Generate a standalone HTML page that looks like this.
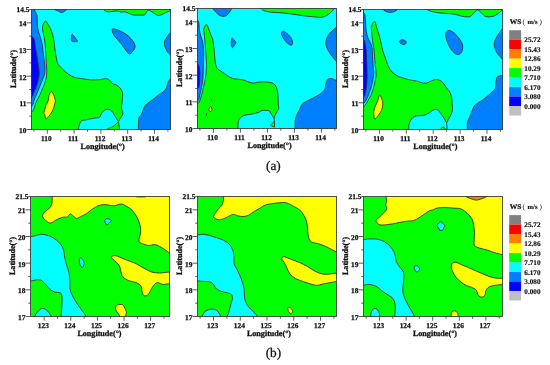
<!DOCTYPE html>
<html><head><meta charset="utf-8"><style>
html,body{margin:0;padding:0;background:#fff;overflow:hidden;}
svg{display:block;}
text{font-family:"Liberation Serif","Noto Serif CJK SC",serif;fill:#111;text-rendering:geometricPrecision;}
.t{font-size:7.4px;font-weight:bold;stroke:#111;stroke-width:0.25px;}
.a{font-size:8.1px;font-weight:bold;stroke:#111;stroke-width:0.3px;}
.c{font-size:7.2px;font-weight:bold;stroke:#111;stroke-width:0.15px;}
.ws{font-size:7.1px;font-weight:bold;stroke:#111;stroke-width:0.25px;}
.ms{font-size:6.6px;font-weight:bold;stroke:#111;stroke-width:0.15px;}
.cjt{font-size:7.4px;font-weight:bold;font-family:"Liberation Serif","Noto Serif CJK SC","Noto Sans CJK SC",serif;}
.lab{font-size:13.3px;stroke:#111;stroke-width:0.25px;}
</style></head><body>
<svg width="550" height="365" viewBox="0 0 550 365">
<rect width="550" height="365" fill="#fff"/>
<clipPath id="cP1"><rect x="31.5" y="9.5" width="139.00" height="120.00"/></clipPath>
<g clip-path="url(#cP1)" stroke="#333" stroke-width="0.9" stroke-linejoin="round">
<rect x="31.5" y="9.5" width="139.00" height="120.00" fill="#00FFFF" stroke="none"/>
<path d="M45.20,21.20 C45.87,20.62 45.85,21.02 46.70,22.20 C47.55,23.38 49.28,26.10 50.30,28.30 C51.32,30.50 52.18,33.12 52.80,35.40 C53.42,37.68 53.57,39.12 54.00,42.00 C54.43,44.88 54.85,49.32 55.40,52.70 C55.95,56.08 56.58,60.07 57.30,62.30 C58.02,64.53 58.42,64.58 59.70,66.10 C60.98,67.62 63.45,70.00 65.00,71.40 C66.55,72.80 67.37,73.48 69.00,74.50 C70.63,75.52 72.68,76.82 74.80,77.50 C76.92,78.18 79.12,78.22 81.70,78.60 C84.28,78.98 87.25,79.63 90.30,79.80 C93.35,79.97 97.52,79.78 100.00,79.60 C102.48,79.42 103.77,78.73 105.20,78.70 C106.63,78.67 107.45,78.63 108.60,79.40 C109.75,80.17 110.52,82.18 112.10,83.30 C113.68,84.42 116.38,84.62 118.10,86.10 C119.82,87.58 121.73,89.47 122.40,92.20 C123.07,94.93 122.27,99.87 122.10,102.50 C121.93,105.13 121.38,106.67 121.40,108.00 C121.42,109.33 121.95,109.55 122.20,110.50 C122.45,111.45 123.00,112.75 122.90,113.70 C122.80,114.65 122.13,115.27 121.60,116.20 C121.07,117.13 120.23,118.40 119.70,119.30 C119.17,120.20 118.92,121.70 118.40,121.60 C117.88,121.50 117.22,119.72 116.60,118.70 C115.98,117.68 115.33,116.55 114.70,115.50 C114.07,114.45 113.53,113.33 112.80,112.40 C112.07,111.47 111.25,110.42 110.30,109.90 C109.35,109.38 108.15,109.20 107.10,109.30 C106.05,109.40 105.00,109.72 104.00,110.50 C103.00,111.28 101.87,112.83 101.10,114.00 C100.33,115.17 100.42,116.83 99.40,117.50 C98.38,118.17 97.08,117.63 95.00,118.00 C92.92,118.37 89.25,119.13 86.90,119.70 C84.55,120.27 82.33,119.82 80.90,121.40 C79.47,122.98 78.73,127.27 78.30,129.20 C77.87,131.13 86.85,132.37 78.30,133.00 C69.75,133.63 35.55,136.33 27.00,133.00 C18.45,129.67 26.05,116.63 27.00,113.00 C27.95,109.37 31.20,112.97 32.70,111.20 C34.20,109.43 34.80,105.15 36.00,102.40 C37.20,99.65 38.70,97.25 39.90,94.70 C41.10,92.15 42.20,89.65 43.20,87.10 C44.20,84.55 45.30,81.92 45.90,79.40 C46.50,76.88 46.70,74.23 46.80,72.00 C46.90,69.77 46.67,68.90 46.50,66.00 C46.33,63.10 46.02,58.10 45.80,54.60 C45.58,51.10 45.47,47.87 45.20,45.00 C44.93,42.13 44.62,39.85 44.20,37.40 C43.78,34.95 42.95,32.25 42.70,30.30 C42.45,28.35 42.28,27.22 42.70,25.70 C43.12,24.18 44.53,21.78 45.20,21.20 Z" fill="#00FF00"/>
<path d="M118.40,122.20 C118.77,123.75 120.62,131.20 118.80,133.00 C116.98,134.80 109.38,133.60 107.50,133.00 C105.62,132.40 107.45,130.17 107.50,129.40 C107.55,128.63 107.23,128.72 107.80,128.40 C108.37,128.08 109.85,127.97 110.90,127.50 C111.95,127.03 113.15,126.23 114.10,125.60 C115.05,124.97 115.88,124.27 116.60,123.70 C117.32,123.13 118.03,120.65 118.40,122.20 Z" fill="#00FF00"/>
<path d="M27.00,5.00 C28.03,-11.92 32.02,4.25 33.20,5.00 C34.38,5.75 33.62,8.15 34.10,9.50 C34.58,10.85 35.60,12.00 36.10,13.10 C36.60,14.20 36.90,14.42 37.10,16.10 C37.30,17.78 37.13,20.83 37.30,23.20 C37.47,25.57 37.63,28.10 38.10,30.30 C38.57,32.50 39.58,34.70 40.10,36.40 C40.62,38.10 40.83,39.07 41.20,40.50 C41.57,41.93 41.93,42.65 42.30,45.00 C42.67,47.35 43.05,51.77 43.40,54.60 C43.75,57.43 44.13,59.60 44.40,62.00 C44.67,64.40 45.02,66.83 45.00,69.00 C44.98,71.17 44.92,72.73 44.30,75.00 C43.68,77.27 42.30,80.08 41.30,82.60 C40.30,85.12 39.43,87.33 38.30,90.10 C37.17,92.87 35.50,96.68 34.50,99.20 C33.50,101.72 33.55,103.98 32.30,105.20 C31.05,106.42 27.88,123.20 27.00,106.50 C26.12,89.80 25.97,21.92 27.00,5.00 Z" fill="#0080FF"/>
<path d="M27.00,36.50 C27.80,26.47 30.67,36.45 31.80,36.80 C32.93,37.15 33.30,37.82 33.80,38.60 C34.30,39.38 34.57,40.27 34.80,41.50 C35.03,42.73 34.93,44.13 35.20,46.00 C35.47,47.87 35.95,50.03 36.40,52.70 C36.85,55.37 37.43,58.78 37.90,62.00 C38.37,65.22 39.12,69.07 39.20,72.00 C39.28,74.93 38.90,77.08 38.40,79.60 C37.90,82.12 37.02,84.83 36.20,87.10 C35.38,89.37 34.17,91.67 33.50,93.20 C32.83,94.73 33.28,95.67 32.20,96.30 C31.12,96.93 27.87,106.97 27.00,97.00 C26.13,87.03 26.20,46.53 27.00,36.50 Z" fill="#0000FF"/>
<path d="M51.40,91.50 C52.13,91.50 53.07,93.62 53.60,94.70 C54.13,95.78 54.32,97.03 54.60,98.00 C54.88,98.97 55.25,99.62 55.30,100.50 C55.35,101.38 55.23,101.88 54.90,103.30 C54.57,104.72 54.05,107.15 53.30,109.00 C52.55,110.85 51.37,112.95 50.40,114.40 C49.43,115.85 48.25,116.95 47.50,117.70 C46.75,118.45 46.38,119.45 45.90,118.90 C45.42,118.35 44.95,115.43 44.60,114.40 C44.25,113.37 43.73,113.60 43.80,112.70 C43.87,111.80 44.65,110.30 45.00,109.00 C45.35,107.70 45.55,105.85 45.90,104.90 C46.25,103.95 46.70,104.12 47.10,103.30 C47.50,102.48 48.03,101.05 48.30,100.00 C48.57,98.95 48.55,97.88 48.70,97.00 C48.85,96.12 48.75,95.62 49.20,94.70 C49.65,93.78 50.67,91.50 51.40,91.50 Z" fill="#FFFF00"/>
<path d="M54.50,6.00 C52.55,6.58 54.15,8.67 54.80,9.50 C55.45,10.33 57.30,10.48 58.40,11.00 C59.50,11.52 60.30,12.60 61.40,12.60 C62.50,12.60 64.15,11.55 65.00,11.00 C65.85,10.45 66.25,10.13 66.50,9.30 C66.75,8.47 68.50,6.55 66.50,6.00 C64.50,5.45 56.45,5.42 54.50,6.00 Z" fill="#0080FF"/>
<path d="M71.80,34.50 C72.15,34.08 72.72,34.67 73.50,35.50 C74.28,36.33 75.82,38.52 76.50,39.50 C77.18,40.48 77.85,41.05 77.60,41.40 C77.35,41.75 75.97,41.63 75.00,41.60 C74.03,41.57 72.40,41.80 71.80,41.20 C71.20,40.60 71.40,39.12 71.40,38.00 C71.40,36.88 71.45,34.92 71.80,34.50 Z" fill="#0080FF"/>
<path d="M112.30,29.10 C112.93,28.23 115.47,29.15 117.60,29.90 C119.73,30.65 122.83,32.10 125.10,33.60 C127.37,35.10 129.57,37.02 131.20,38.90 C132.83,40.78 134.42,43.15 134.90,44.90 C135.38,46.65 134.98,47.88 134.10,49.40 C133.22,50.92 130.98,53.87 129.60,54.00 C128.22,54.13 127.05,51.72 125.80,50.20 C124.55,48.68 123.47,46.67 122.10,44.90 C120.73,43.13 118.98,41.23 117.60,39.60 C116.22,37.97 114.68,36.85 113.80,35.10 C112.92,33.35 111.67,29.97 112.30,29.10 Z" fill="#0080FF"/>
<path d="M173.00,31.00 C172.58,27.10 171.77,31.20 170.50,32.60 C169.23,34.00 166.40,37.42 165.40,39.40 C164.40,41.38 164.22,42.52 164.50,44.50 C164.78,46.48 166.10,49.60 167.10,51.30 C168.10,53.00 169.52,53.92 170.50,54.70 C171.48,55.48 172.58,59.95 173.00,56.00 C173.42,52.05 173.42,34.90 173.00,31.00 Z" fill="#0080FF"/>
<path d="M103.50,5.00 C91.80,5.73 103.22,8.27 103.80,9.40 C104.38,10.53 105.63,11.45 107.00,11.80 C108.37,12.15 110.23,11.63 112.00,11.50 C113.77,11.37 116.03,10.88 117.60,11.00 C119.17,11.12 120.15,12.05 121.40,12.20 C122.65,12.35 123.22,11.47 125.10,11.90 C126.98,12.33 130.47,14.27 132.70,14.80 C134.93,15.33 136.50,15.10 138.50,15.10 C140.50,15.10 143.17,15.58 144.70,14.80 C146.23,14.02 146.70,11.03 147.70,10.40 C148.70,9.77 149.57,10.48 150.70,11.00 C151.83,11.52 153.23,12.75 154.50,13.50 C155.77,14.25 157.05,15.33 158.30,15.50 C159.55,15.67 160.75,15.00 162.00,14.50 C163.25,14.00 164.42,13.20 165.80,12.50 C167.18,11.80 168.93,11.55 170.30,10.30 C171.67,9.05 185.13,5.88 174.00,5.00 C162.87,4.12 115.20,4.27 103.50,5.00 Z" fill="#00FF00"/>
<path d="M174.00,76.00 C173.62,66.75 172.67,76.53 171.70,77.50 C170.73,78.47 169.07,80.07 168.20,81.80 C167.33,83.53 167.37,86.17 166.50,87.90 C165.63,89.63 164.30,91.05 163.00,92.20 C161.70,93.35 160.28,93.65 158.70,94.80 C157.12,95.95 155.37,97.67 153.50,99.10 C151.63,100.53 149.08,101.97 147.50,103.40 C145.92,104.83 145.00,105.83 144.00,107.70 C143.00,109.57 142.35,112.87 141.50,114.60 C140.65,116.33 139.43,115.65 138.90,118.10 C138.37,120.55 138.40,126.82 138.30,129.30 C138.20,131.78 132.35,132.38 138.30,133.00 C144.25,133.62 168.05,142.50 174.00,133.00 C179.95,123.50 174.38,85.25 174.00,76.00 Z" fill="#0080FF"/>
</g>
<rect x="31.5" y="9.5" width="139.00" height="120.00" fill="none" stroke="#2a2a2a" stroke-opacity="0.85" stroke-width="0.95"/>
<path d="M29.30,9.50H31.5M26.50,22.83H31.5M29.30,36.17H31.5M26.50,49.50H31.5M29.30,62.83H31.5M26.50,76.17H31.5M29.30,89.50H31.5M26.50,102.83H31.5M29.30,116.17H31.5M26.50,129.50H31.5M33.90,129.5V131.70M47.30,129.5V133.70M60.70,129.5V131.70M74.10,129.5V133.70M87.50,129.5V131.70M100.90,129.5V133.70M114.30,129.5V131.70M127.70,129.5V133.70M141.10,129.5V131.70M154.50,129.5V133.70M167.90,129.5V131.70" stroke="#333" stroke-width="0.8" fill="none"/>
<text x="29.50" y="12.30" text-anchor="end" class="t">14.5</text>
<text x="26.50" y="26.33" text-anchor="end" class="t">14</text>
<text x="26.50" y="53.00" text-anchor="end" class="t">13</text>
<text x="26.50" y="79.67" text-anchor="end" class="t">12</text>
<text x="26.50" y="106.33" text-anchor="end" class="t">11</text>
<text x="26.50" y="133.00" text-anchor="end" class="t">10</text>
<text x="46.40" y="141.30" text-anchor="middle" class="t">110</text>
<text x="73.20" y="141.30" text-anchor="middle" class="t">111</text>
<text x="100.00" y="141.30" text-anchor="middle" class="t">112</text>
<text x="126.80" y="141.30" text-anchor="middle" class="t">113</text>
<text x="153.60" y="141.30" text-anchor="middle" class="t">114</text>
<text x="102.70" y="148.50" text-anchor="middle" class="a">Longitude(°)</text>
<text transform="translate(15.80,68.90) rotate(-90)" text-anchor="middle" class="a">Latitude(°)</text>
<clipPath id="cP2"><rect x="197.5" y="8.5" width="139.00" height="120.00"/></clipPath>
<g clip-path="url(#cP2)" stroke="#333" stroke-width="0.9" stroke-linejoin="round">
<rect x="197.5" y="8.5" width="139.00" height="120.00" fill="#00FFFF" stroke="none"/>
<path d="M206.00,24.60 C206.63,24.15 206.88,24.83 207.60,26.30 C208.32,27.77 209.48,31.30 210.30,33.40 C211.12,35.50 211.97,37.13 212.50,38.90 C213.03,40.67 213.23,42.17 213.50,44.00 C213.77,45.83 213.80,46.87 214.10,49.90 C214.40,52.93 214.78,59.12 215.30,62.20 C215.82,65.28 216.07,66.77 217.20,68.40 C218.33,70.03 220.05,70.57 222.10,72.00 C224.15,73.43 227.30,75.83 229.50,77.00 C231.70,78.17 233.08,78.53 235.30,79.00 C237.52,79.47 239.93,79.13 242.80,79.80 C245.67,80.47 249.27,82.67 252.50,83.00 C255.73,83.33 258.95,81.80 262.20,81.80 C265.45,81.80 269.72,82.25 272.00,83.00 C274.28,83.75 274.93,84.62 275.90,86.30 C276.87,87.98 277.42,90.35 277.80,93.10 C278.18,95.85 278.03,100.22 278.20,102.80 C278.37,105.38 278.92,107.30 278.80,108.60 C278.68,109.90 277.93,109.83 277.50,110.60 C277.07,111.37 276.65,112.32 276.20,113.20 C275.75,114.08 275.15,115.05 274.80,115.90 C274.45,116.75 274.42,118.20 274.10,118.30 C273.78,118.40 273.38,117.23 272.90,116.50 C272.42,115.77 271.70,114.67 271.20,113.90 C270.70,113.13 270.33,112.45 269.90,111.90 C269.47,111.35 269.92,110.83 268.60,110.60 C267.28,110.37 263.72,110.18 262.00,110.50 C260.28,110.82 260.20,111.87 258.30,112.50 C256.40,113.13 253.02,113.82 250.60,114.30 C248.18,114.78 245.58,114.72 243.80,115.40 C242.02,116.08 240.82,117.30 239.90,118.40 C238.98,119.50 238.63,120.30 238.30,122.00 C237.97,123.70 237.97,126.77 237.90,128.60 C237.83,130.43 245.22,132.27 237.90,133.00 C230.58,133.73 201.32,137.83 194.00,133.00 C186.68,128.17 193.28,108.97 194.00,104.00 C194.72,99.03 197.13,104.33 198.30,103.20 C199.47,102.07 200.05,100.23 201.00,97.20 C201.95,94.17 203.23,88.37 204.00,85.00 C204.77,81.63 205.22,79.50 205.60,77.00 C205.98,74.50 206.15,72.47 206.30,70.00 C206.45,67.53 206.63,65.55 206.50,62.20 C206.37,58.85 205.72,52.93 205.50,49.90 C205.28,46.87 205.40,46.57 205.20,44.00 C205.00,41.43 204.53,37.00 204.30,34.50 C204.07,32.00 203.52,30.65 203.80,29.00 C204.08,27.35 205.37,25.05 206.00,24.60 Z" fill="#00FF00"/>
<path d="M194.00,19.50 C194.57,6.03 196.60,19.72 197.40,20.20 C198.20,20.68 198.47,20.75 198.80,22.40 C199.13,24.05 199.03,27.72 199.40,30.10 C199.77,32.48 200.45,34.68 201.00,36.70 C201.55,38.72 202.27,40.00 202.70,42.20 C203.13,44.40 203.45,47.18 203.60,49.90 C203.75,52.62 203.65,55.15 203.60,58.50 C203.55,61.85 203.48,66.08 203.30,70.00 C203.12,73.92 203.00,78.22 202.50,82.00 C202.00,85.78 201.00,89.67 200.30,92.70 C199.60,95.73 199.35,98.82 198.30,100.20 C197.25,101.58 194.72,114.45 194.00,101.00 C193.28,87.55 193.43,32.97 194.00,19.50 Z" fill="#0080FF"/>
<path d="M194.00,63.00 C194.62,58.83 196.85,62.92 197.70,63.50 C198.55,64.08 198.75,65.08 199.10,66.50 C199.45,67.92 199.68,69.75 199.80,72.00 C199.92,74.25 199.90,77.83 199.80,80.00 C199.70,82.17 199.45,83.67 199.20,85.00 C198.95,86.33 199.17,87.42 198.30,88.00 C197.43,88.58 194.72,92.67 194.00,88.50 C193.28,84.33 193.38,67.17 194.00,63.00 Z" fill="#0000FF"/>
<path d="M274.50,121.10 L274.50,127.10 L270.20,125.40 Z" fill="#00FF00"/>
<path d="M274.1,118.3 L274.5,121.1" fill="none"/>
<path d="M211.2,98.5 L211.9,101.5" fill="none"/>
<path d="M206.8,113.3 L206.2,116" fill="none"/>
<path d="M210.80,106.20 C211.32,106.30 212.12,109.32 212.00,110.20 C211.88,111.08 210.62,111.60 210.10,111.50 C209.58,111.40 208.78,110.48 208.90,109.60 C209.02,108.72 210.28,106.10 210.80,106.20 Z" fill="#FFFF00"/>
<path d="M212.50,5.00 C209.25,5.58 212.58,7.47 213.00,8.50 C213.42,9.53 214.25,10.32 215.00,11.20 C215.75,12.08 216.67,13.07 217.50,13.80 C218.33,14.53 219.08,15.18 220.00,15.60 C220.92,16.02 222.00,16.27 223.00,16.30 C224.00,16.33 225.08,16.27 226.00,15.80 C226.92,15.33 227.75,14.38 228.50,13.50 C229.25,12.62 229.95,11.33 230.50,10.50 C231.05,9.67 231.47,9.42 231.80,8.50 C232.13,7.58 235.72,5.58 232.50,5.00 C229.28,4.42 215.75,4.42 212.50,5.00 Z" fill="#0080FF"/>
<path d="M232.00,37.90 C232.45,37.73 233.37,39.23 234.00,40.00 C234.63,40.77 235.72,41.67 235.80,42.50 C235.88,43.33 235.05,44.13 234.50,45.00 C233.95,45.87 233.03,47.70 232.50,47.70 C231.97,47.70 231.50,46.12 231.30,45.00 C231.10,43.88 231.18,42.18 231.30,41.00 C231.42,39.82 231.55,38.07 232.00,37.90 Z" fill="#0080FF"/>
<path d="M283.00,31.00 C284.00,30.95 286.17,32.70 287.60,34.00 C289.03,35.30 290.77,37.22 291.60,38.80 C292.43,40.38 292.70,42.43 292.60,43.50 C292.50,44.57 291.85,45.25 291.00,45.20 C290.15,45.15 288.67,44.20 287.50,43.20 C286.33,42.20 284.98,40.68 284.00,39.20 C283.02,37.72 281.77,35.67 281.60,34.30 C281.43,32.93 282.00,31.05 283.00,31.00 Z" fill="#0080FF"/>
<path d="M340.00,27.00 C339.45,21.20 338.20,26.35 336.70,27.20 C335.20,28.05 332.63,30.32 331.00,32.10 C329.37,33.88 327.73,35.83 326.90,37.90 C326.07,39.97 325.73,42.32 326.00,44.50 C326.27,46.68 327.40,48.95 328.50,51.00 C329.60,53.05 331.23,55.02 332.60,56.80 C333.97,58.58 335.47,60.83 336.70,61.70 C337.93,62.57 339.45,67.78 340.00,62.00 C340.55,56.22 340.55,32.80 340.00,27.00 Z" fill="#0080FF"/>
<path d="M260.50,5.00 C248.13,5.55 260.07,7.30 260.80,8.30 C261.53,9.30 263.13,10.35 264.90,11.00 C266.67,11.65 268.93,11.92 271.40,12.20 C273.87,12.48 276.95,12.48 279.70,12.70 C282.45,12.92 285.17,13.17 287.90,13.50 C290.63,13.83 293.37,14.30 296.10,14.70 C298.83,15.10 301.55,15.57 304.30,15.90 C307.05,16.23 309.85,16.45 312.60,16.70 C315.35,16.95 318.62,17.53 320.80,17.40 C322.98,17.27 324.05,16.70 325.70,15.90 C327.35,15.10 329.38,13.73 330.70,12.60 C332.02,11.47 332.88,10.37 333.60,9.10 C334.32,7.83 347.18,5.68 335.00,5.00 C322.82,4.32 272.87,4.45 260.50,5.00 Z" fill="#00FF00"/>
<path d="M340.00,80.50 C339.35,71.75 337.50,80.83 336.10,80.50 C334.70,80.17 333.00,78.67 331.60,78.50 C330.20,78.33 328.67,78.52 327.70,79.50 C326.73,80.48 326.28,82.78 325.80,84.40 C325.32,86.02 325.78,87.58 324.80,89.20 C323.82,90.82 321.85,92.63 319.90,94.10 C317.95,95.57 315.20,96.87 313.10,98.00 C311.00,99.13 309.08,99.93 307.30,100.90 C305.52,101.87 303.70,102.33 302.40,103.80 C301.10,105.27 300.47,107.75 299.50,109.70 C298.53,111.65 297.32,113.72 296.60,115.50 C295.88,117.28 295.43,118.28 295.20,120.40 C294.97,122.52 295.20,126.10 295.20,128.20 C295.20,130.30 287.73,132.20 295.20,133.00 C302.67,133.80 332.53,141.75 340.00,133.00 C347.47,124.25 340.65,89.25 340.00,80.50 Z" fill="#0080FF"/>
</g>
<rect x="197.5" y="8.5" width="139.00" height="120.00" fill="none" stroke="#2a2a2a" stroke-opacity="0.85" stroke-width="0.95"/>
<path d="M195.30,8.50H197.5M192.50,21.83H197.5M195.30,35.17H197.5M192.50,48.50H197.5M195.30,61.83H197.5M192.50,75.17H197.5M195.30,88.50H197.5M192.50,101.83H197.5M195.30,115.17H197.5M192.50,128.50H197.5M199.90,128.5V130.70M213.40,128.5V132.70M226.90,128.5V130.70M240.40,128.5V132.70M253.90,128.5V130.70M267.40,128.5V132.70M280.90,128.5V130.70M294.40,128.5V132.70M307.90,128.5V130.70M321.40,128.5V132.70M334.90,128.5V130.70" stroke="#333" stroke-width="0.8" fill="none"/>
<text x="195.50" y="11.30" text-anchor="end" class="t">14.5</text>
<text x="192.50" y="25.33" text-anchor="end" class="t">14</text>
<text x="192.50" y="52.00" text-anchor="end" class="t">13</text>
<text x="192.50" y="78.67" text-anchor="end" class="t">12</text>
<text x="192.50" y="105.33" text-anchor="end" class="t">11</text>
<text x="192.50" y="132.00" text-anchor="end" class="t">10</text>
<text x="212.50" y="140.30" text-anchor="middle" class="t">110</text>
<text x="239.50" y="140.30" text-anchor="middle" class="t">111</text>
<text x="266.50" y="140.30" text-anchor="middle" class="t">112</text>
<text x="293.50" y="140.30" text-anchor="middle" class="t">113</text>
<text x="320.50" y="140.30" text-anchor="middle" class="t">114</text>
<text x="269.60" y="147.50" text-anchor="middle" class="a">Longitude(°)</text>
<text transform="translate(181.80,67.90) rotate(-90)" text-anchor="middle" class="a">Latitude(°)</text>
<clipPath id="cP3"><rect x="363.5" y="9.5" width="139.00" height="120.00"/></clipPath>
<g clip-path="url(#cP3)" stroke="#333" stroke-width="0.9" stroke-linejoin="round">
<rect x="363.5" y="9.5" width="139.00" height="120.00" fill="#00FFFF" stroke="none"/>
<path d="M374.30,21.40 C374.88,21.15 375.12,21.97 375.50,23.00 C375.88,24.03 376.10,25.93 376.60,27.60 C377.10,29.27 377.77,30.50 378.50,33.00 C379.23,35.50 380.32,39.72 381.00,42.60 C381.68,45.48 381.88,47.75 382.60,50.30 C383.32,52.85 384.33,55.20 385.30,57.90 C386.27,60.60 387.27,64.15 388.40,66.50 C389.53,68.85 390.67,70.47 392.10,72.00 C393.53,73.53 395.37,74.77 397.00,75.70 C398.63,76.63 400.10,76.98 401.90,77.60 C403.70,78.22 405.20,78.77 407.80,79.40 C410.40,80.03 414.58,80.75 417.50,81.40 C420.42,82.05 423.03,83.37 425.30,83.30 C427.57,83.23 429.17,81.65 431.10,81.00 C433.03,80.35 434.95,79.17 436.90,79.40 C438.85,79.63 441.18,80.93 442.80,82.40 C444.42,83.87 445.42,86.58 446.60,88.20 C447.78,89.82 449.03,90.30 449.90,92.10 C450.77,93.90 451.38,96.35 451.80,99.00 C452.22,101.65 452.35,105.87 452.40,108.00 C452.45,110.13 452.47,110.43 452.10,111.80 C451.73,113.17 450.82,114.95 450.20,116.20 C449.58,117.45 449.00,118.25 448.40,119.30 C447.80,120.35 447.33,122.70 446.60,122.50 C445.87,122.30 444.87,119.47 444.00,118.10 C443.13,116.73 442.25,115.47 441.40,114.30 C440.55,113.13 439.73,111.93 438.90,111.10 C438.07,110.27 437.55,109.40 436.40,109.30 C435.25,109.20 433.20,109.90 432.00,110.50 C430.80,111.10 430.65,112.08 429.20,112.90 C427.75,113.72 425.73,114.82 423.30,115.40 C420.87,115.98 416.87,115.27 414.60,116.40 C412.33,117.53 410.68,120.10 409.70,122.20 C408.72,124.30 408.87,127.20 408.70,129.00 C408.53,130.80 416.82,132.33 408.70,133.00 C400.58,133.67 368.12,136.83 360.00,133.00 C351.88,129.17 359.28,114.42 360.00,110.00 C360.72,105.58 362.93,108.17 364.30,106.50 C365.67,104.83 366.98,102.12 368.20,100.00 C369.42,97.88 370.57,96.43 371.60,93.80 C372.63,91.17 373.63,87.38 374.40,84.20 C375.17,81.02 376.08,78.12 376.20,74.70 C376.32,71.28 375.47,67.82 375.10,63.70 C374.73,59.58 374.38,53.52 374.00,50.00 C373.62,46.48 373.17,45.43 372.80,42.60 C372.43,39.77 372.05,35.50 371.80,33.00 C371.55,30.50 371.27,29.02 371.30,27.60 C371.33,26.18 371.50,25.53 372.00,24.50 C372.50,23.47 373.72,21.65 374.30,21.40 Z" fill="#00FF00"/>
<path d="M441.00,131.00 C440.37,130.55 441.05,128.98 441.40,128.30 C441.75,127.62 442.52,126.90 443.10,126.90 C443.68,126.90 444.55,127.62 444.90,128.30 C445.25,128.98 445.85,130.55 445.20,131.00 C444.55,131.45 441.63,131.45 441.00,131.00 Z" fill="#00FF00"/>
<path d="M446.6,122.5 L447.1,130" fill="none"/>
<path d="M360.00,12.00 C360.55,-3.20 362.48,12.37 363.30,12.80 C364.12,13.23 364.53,13.27 364.90,14.60 C365.27,15.93 365.28,18.12 365.50,20.80 C365.72,23.48 365.78,27.82 366.20,30.70 C366.62,33.58 367.28,36.05 368.00,38.10 C368.72,40.15 369.83,41.35 370.50,43.00 C371.17,44.65 371.58,44.55 372.00,48.00 C372.42,51.45 372.72,59.25 373.00,63.70 C373.28,68.15 373.93,71.05 373.70,74.70 C373.47,78.35 372.40,82.42 371.60,85.60 C370.80,88.78 369.80,91.40 368.90,93.80 C368.00,96.20 367.10,98.38 366.20,100.00 C365.30,101.62 364.53,102.83 363.50,103.50 C362.47,104.17 360.58,119.25 360.00,104.00 C359.42,88.75 359.45,27.20 360.00,12.00 Z" fill="#0080FF"/>
<path d="M360.00,39.00 C360.55,29.22 362.53,38.88 363.30,39.30 C364.07,39.72 364.23,40.38 364.60,41.50 C364.97,42.62 365.23,44.58 365.50,46.00 C365.77,47.42 365.98,47.05 366.20,50.00 C366.42,52.95 366.65,59.13 366.80,63.70 C366.95,68.27 367.20,73.28 367.10,77.40 C367.00,81.52 366.58,85.43 366.20,88.40 C365.82,91.37 365.25,93.68 364.80,95.20 C364.35,96.72 364.30,97.03 363.50,97.50 C362.70,97.97 360.58,107.75 360.00,98.00 C359.42,88.25 359.45,48.78 360.00,39.00 Z" fill="#0000FF"/>
<path d="M379.70,94.80 C380.42,94.80 381.68,98.77 382.20,100.30 C382.72,101.83 382.90,102.35 382.80,104.00 C382.70,105.65 382.32,108.35 381.60,110.20 C380.88,112.05 379.53,113.67 378.50,115.10 C377.47,116.53 376.12,118.38 375.40,118.80 C374.68,119.22 374.47,118.83 374.20,117.60 C373.93,116.37 373.60,113.35 373.80,111.40 C374.00,109.45 374.72,107.75 375.40,105.90 C376.08,104.05 377.18,102.15 377.90,100.30 C378.62,98.45 378.98,94.80 379.70,94.80 Z" fill="#FFFF00"/>
<path d="M383.00,5.00 C380.65,5.75 382.92,8.42 383.40,9.50 C383.88,10.58 384.77,11.02 385.90,11.50 C387.03,11.98 388.77,12.40 390.20,12.40 C391.63,12.40 393.37,11.95 394.50,11.50 C395.63,11.05 396.50,10.78 397.00,9.70 C397.50,8.62 399.83,5.78 397.50,5.00 C395.17,4.22 385.35,4.25 383.00,5.00 Z" fill="#0080FF"/>
<path d="M399.30,41.10 C399.62,40.55 401.03,39.83 401.90,39.70 C402.77,39.57 403.78,39.92 404.50,40.30 C405.22,40.68 406.13,41.30 406.20,42.00 C406.27,42.70 405.52,44.12 404.90,44.50 C404.28,44.88 403.32,44.55 402.50,44.30 C401.68,44.05 400.53,43.53 400.00,43.00 C399.47,42.47 398.98,41.65 399.30,41.10 Z" fill="#0080FF"/>
<path d="M445.70,33.50 C445.97,32.35 446.62,31.02 447.50,30.60 C448.38,30.18 449.75,30.48 451.00,31.00 C452.25,31.52 453.52,32.28 455.00,33.70 C456.48,35.12 458.63,37.62 459.90,39.50 C461.17,41.38 462.20,43.22 462.60,45.00 C463.00,46.78 462.75,48.72 462.30,50.20 C461.85,51.68 460.85,53.22 459.90,53.90 C458.95,54.58 457.98,54.92 456.60,54.30 C455.22,53.68 453.08,52.12 451.60,50.20 C450.12,48.28 448.65,44.92 447.70,42.80 C446.75,40.68 446.23,39.05 445.90,37.50 C445.57,35.95 445.43,34.65 445.70,33.50 Z" fill="#0080FF"/>
<path d="M506.00,28.00 C505.42,22.80 503.90,27.57 502.50,28.80 C501.10,30.03 498.90,33.35 497.60,35.40 C496.30,37.45 495.25,39.33 494.70,41.10 C494.15,42.87 493.95,44.08 494.30,46.00 C494.65,47.92 495.70,50.68 496.80,52.60 C497.90,54.52 499.95,56.40 500.90,57.50 C501.85,58.60 501.65,58.78 502.50,59.20 C503.35,59.62 505.42,65.20 506.00,60.00 C506.58,54.80 506.58,33.20 506.00,28.00 Z" fill="#0080FF"/>
<path d="M427.00,5.00 C414.40,5.77 426.37,8.47 427.40,9.60 C428.43,10.73 431.27,11.27 433.20,11.80 C435.13,12.33 437.08,12.55 439.00,12.80 C440.92,13.05 442.38,13.10 444.70,13.30 C447.02,13.50 450.68,13.70 452.90,14.00 C455.12,14.30 456.35,14.70 458.00,15.10 C459.65,15.50 460.92,16.12 462.80,16.40 C464.68,16.68 467.68,17.12 469.30,16.80 C470.92,16.48 471.67,15.23 472.50,14.50 C473.33,13.77 473.45,13.17 474.30,12.40 C475.15,11.63 476.50,9.90 477.60,9.90 C478.70,9.90 479.92,11.55 480.90,12.40 C481.88,13.25 482.68,14.32 483.50,15.00 C484.32,15.68 484.60,16.20 485.80,16.50 C487.00,16.80 489.05,17.02 490.70,16.80 C492.35,16.58 494.05,16.07 495.70,15.20 C497.35,14.33 499.52,12.48 500.60,11.60 C501.68,10.72 501.80,11.00 502.20,9.90 C502.60,8.80 515.53,5.82 503.00,5.00 C490.47,4.18 439.60,4.23 427.00,5.00 Z" fill="#00FF00"/>
<path d="M506.00,75.60 C505.42,66.03 503.90,75.43 502.50,75.60 C501.10,75.77 498.68,75.63 497.60,76.60 C496.52,77.57 496.38,79.47 496.00,81.40 C495.62,83.33 496.17,86.25 495.30,88.20 C494.43,90.15 492.68,91.30 490.80,93.10 C488.92,94.90 486.12,97.37 484.00,99.00 C481.88,100.63 479.73,101.77 478.10,102.90 C476.47,104.03 475.17,104.50 474.20,105.80 C473.23,107.10 473.10,108.75 472.30,110.70 C471.50,112.65 470.22,115.57 469.40,117.50 C468.58,119.43 467.73,120.45 467.40,122.30 C467.07,124.15 467.40,126.82 467.40,128.60 C467.40,130.38 460.97,132.27 467.40,133.00 C473.83,133.73 499.57,142.57 506.00,133.00 C512.43,123.43 506.58,85.17 506.00,75.60 Z" fill="#0080FF"/>
</g>
<rect x="363.5" y="9.5" width="139.00" height="120.00" fill="none" stroke="#2a2a2a" stroke-opacity="0.85" stroke-width="0.95"/>
<path d="M361.30,9.50H363.5M358.50,22.83H363.5M361.30,36.17H363.5M358.50,49.50H363.5M361.30,62.83H363.5M358.50,76.17H363.5M361.30,89.50H363.5M358.50,102.83H363.5M361.30,116.17H363.5M358.50,129.50H363.5M365.95,129.5V131.70M379.40,129.5V133.70M392.85,129.5V131.70M406.30,129.5V133.70M419.75,129.5V131.70M433.20,129.5V133.70M446.65,129.5V131.70M460.10,129.5V133.70M473.55,129.5V131.70M487.00,129.5V133.70M500.45,129.5V131.70" stroke="#333" stroke-width="0.8" fill="none"/>
<text x="361.50" y="12.30" text-anchor="end" class="t">14.5</text>
<text x="358.50" y="26.33" text-anchor="end" class="t">14</text>
<text x="358.50" y="53.00" text-anchor="end" class="t">13</text>
<text x="358.50" y="79.67" text-anchor="end" class="t">12</text>
<text x="358.50" y="106.33" text-anchor="end" class="t">11</text>
<text x="358.50" y="133.00" text-anchor="end" class="t">10</text>
<text x="378.50" y="141.30" text-anchor="middle" class="t">110</text>
<text x="405.40" y="141.30" text-anchor="middle" class="t">111</text>
<text x="432.30" y="141.30" text-anchor="middle" class="t">112</text>
<text x="459.20" y="141.30" text-anchor="middle" class="t">113</text>
<text x="486.10" y="141.30" text-anchor="middle" class="t">114</text>
<text x="435.40" y="148.50" text-anchor="middle" class="a">Longitude(°)</text>
<text transform="translate(347.80,68.90) rotate(-90)" text-anchor="middle" class="a">Latitude(°)</text>
<clipPath id="cQ1"><rect x="30.5" y="196.5" width="139.00" height="120.00"/></clipPath>
<g clip-path="url(#cQ1)" stroke="#333" stroke-width="0.9" stroke-linejoin="round">
<rect x="30.5" y="196.5" width="139.00" height="120.00" fill="#00FF00" stroke="none"/>
<path d="M52.10,192.00 C31.95,192.70 52.10,194.55 52.10,196.20 C52.10,197.85 52.40,200.05 52.10,201.90 C51.80,203.75 51.35,205.82 50.30,207.30 C49.25,208.78 47.08,209.47 45.80,210.80 C44.52,212.13 42.90,213.97 42.60,215.30 C42.30,216.63 43.17,217.70 44.00,218.80 C44.83,219.90 46.40,221.22 47.60,221.90 C48.80,222.58 49.72,223.27 51.20,222.90 C52.68,222.53 54.43,220.67 56.50,219.70 C58.57,218.73 61.82,217.53 63.60,217.10 C65.38,216.67 66.15,217.62 67.20,217.10 C68.25,216.58 69.15,214.45 69.90,214.00 C70.65,213.55 70.97,213.88 71.70,214.40 C72.43,214.92 73.42,216.45 74.30,217.10 C75.18,217.75 75.80,218.45 77.00,218.30 C78.20,218.15 79.87,217.00 81.50,216.20 C83.13,215.40 85.17,214.55 86.80,213.50 C88.43,212.45 89.67,211.08 91.30,209.90 C92.93,208.72 95.48,207.08 96.60,206.40 C97.72,205.72 96.88,206.10 98.00,205.80 C99.12,205.50 101.52,204.72 103.30,204.60 C105.08,204.48 106.92,204.90 108.70,205.10 C110.48,205.30 111.93,205.98 114.00,205.80 C116.07,205.62 119.02,203.92 121.10,204.00 C123.18,204.08 124.72,205.32 126.50,206.30 C128.28,207.28 130.17,208.27 131.80,209.90 C133.43,211.53 134.97,213.73 136.30,216.10 C137.63,218.47 139.07,221.43 139.80,224.10 C140.53,226.77 140.85,229.28 140.70,232.10 C140.55,234.92 138.60,239.07 138.90,241.00 C139.20,242.93 140.87,242.95 142.50,243.70 C144.13,244.45 146.63,245.35 148.70,245.50 C150.77,245.65 152.82,244.30 154.90,244.60 C156.98,244.90 159.27,246.27 161.20,247.30 C163.13,248.33 165.02,249.77 166.50,250.80 C167.98,251.83 169.02,252.80 170.10,253.50 C171.18,254.20 172.52,265.25 173.00,255.00 C173.48,244.75 193.15,202.50 173.00,192.00 C152.85,181.50 72.25,191.30 52.10,192.00 Z" fill="#FFFF00"/>
<path d="M27.00,236.80 C27.52,229.33 28.75,236.87 30.10,236.70 C31.45,236.53 33.37,236.20 35.10,235.80 C36.83,235.40 38.72,234.45 40.50,234.30 C42.28,234.15 44.02,234.50 45.80,234.90 C47.58,235.30 49.42,235.82 51.20,236.70 C52.98,237.58 54.87,238.87 56.50,240.20 C58.13,241.53 59.82,243.07 61.00,244.70 C62.18,246.33 63.02,248.12 63.60,250.00 C64.18,251.88 64.05,253.68 64.50,256.00 C64.95,258.32 65.55,261.10 66.30,263.90 C67.05,266.70 68.40,269.83 69.00,272.80 C69.60,275.77 69.75,279.02 69.90,281.70 C70.05,284.38 69.45,286.52 69.90,288.90 C70.35,291.28 71.27,293.33 72.60,296.00 C73.93,298.67 76.13,302.23 77.90,304.90 C79.67,307.57 81.87,310.07 83.20,312.00 C84.53,313.93 85.35,315.17 85.90,316.50 C86.45,317.83 90.65,319.42 86.50,320.00 C82.35,320.58 65.25,320.58 61.00,320.00 C56.75,319.42 60.85,319.02 61.00,316.50 C61.15,313.98 61.75,308.32 61.90,304.90 C62.05,301.48 62.20,298.02 61.90,296.00 C61.60,293.98 61.30,293.45 60.10,292.80 C58.90,292.15 56.48,292.75 54.70,292.10 C52.92,291.45 51.03,290.33 49.40,288.90 C47.77,287.47 46.38,284.98 44.90,283.50 C43.42,282.02 42.13,280.58 40.50,280.00 C38.87,279.42 36.83,279.77 35.10,280.00 C33.37,280.23 31.45,281.15 30.10,281.40 C28.75,281.65 27.52,288.93 27.00,281.50 C26.48,274.07 26.48,244.27 27.00,236.80 Z" fill="#00FFFF"/>
<path d="M33.50,320.00 C30.58,319.42 33.92,317.75 34.50,316.50 C35.08,315.25 36.00,313.75 37.00,312.50 C38.00,311.25 39.53,309.67 40.50,309.00 C41.47,308.33 41.97,308.47 42.80,308.50 C43.63,308.53 44.55,308.58 45.50,309.20 C46.45,309.82 47.50,310.98 48.50,312.20 C49.50,313.42 50.92,315.20 51.50,316.50 C52.08,317.80 55.00,319.42 52.00,320.00 C49.00,320.58 36.42,320.58 33.50,320.00 Z" fill="#00FFFF"/>
<path d="M80.60,257.70 C81.25,257.70 82.62,259.27 83.20,260.30 C83.78,261.33 84.23,262.70 84.10,263.90 C83.97,265.10 83.08,267.35 82.40,267.50 C81.72,267.65 80.52,266.00 80.00,264.80 C79.48,263.60 79.20,261.48 79.30,260.30 C79.40,259.12 79.95,257.70 80.60,257.70 Z" fill="#00FFFF"/>
<path d="M104.80,219.70 C105.25,219.10 106.72,218.65 107.80,218.80 C108.88,218.95 111.15,219.87 111.30,220.60 C111.45,221.33 109.43,222.47 108.70,223.20 C107.97,223.93 107.50,225.13 106.90,225.00 C106.30,224.87 105.45,223.28 105.10,222.40 C104.75,221.52 104.35,220.30 104.80,219.70 Z" fill="#00FFFF"/>
<path d="M111.40,256.70 C111.88,256.07 114.28,255.48 116.20,255.80 C118.12,256.12 120.50,257.65 122.90,258.60 C125.30,259.55 128.37,260.63 130.60,261.50 C132.83,262.37 134.07,262.68 136.30,263.80 C138.53,264.92 141.43,266.83 144.00,268.20 C146.57,269.57 149.15,271.20 151.70,272.00 C154.25,272.80 156.37,273.00 159.30,273.00 C162.23,273.00 167.02,272.17 169.30,272.00 C171.58,271.83 172.38,270.07 173.00,272.00 C173.62,273.93 173.62,281.67 173.00,283.60 C172.38,285.53 170.93,283.45 169.30,283.60 C167.67,283.75 165.18,284.67 163.20,284.50 C161.22,284.33 159.00,282.43 157.40,282.60 C155.80,282.77 154.72,284.22 153.60,285.50 C152.48,286.78 151.67,288.70 150.70,290.30 C149.73,291.90 148.92,294.22 147.80,295.10 C146.68,295.98 144.95,296.08 144.00,295.60 C143.05,295.12 142.58,293.73 142.10,292.20 C141.62,290.67 142.07,288.00 141.10,286.40 C140.13,284.80 138.37,283.55 136.30,282.60 C134.23,281.65 130.93,281.67 128.70,280.70 C126.47,279.73 124.18,278.25 122.90,276.80 C121.62,275.35 121.63,273.92 121.00,272.00 C120.37,270.08 120.38,267.37 119.10,265.30 C117.82,263.23 114.58,261.03 113.30,259.60 C112.02,258.17 110.92,257.33 111.40,256.70 Z" fill="#FFFF00"/>
<path d="M115.80,306.50 C116.13,305.87 116.80,305.05 117.50,304.70 C118.20,304.35 119.15,304.38 120.00,304.40 C120.85,304.42 121.93,304.45 122.60,304.80 C123.27,305.15 123.45,305.53 124.00,306.50 C124.55,307.47 125.50,309.55 125.90,310.60 C126.30,311.65 126.47,311.87 126.40,312.80 C126.33,313.73 125.73,315.17 125.50,316.20 C125.27,317.23 125.92,318.53 125.00,319.00 C124.08,319.47 120.92,319.58 120.00,319.00 C119.08,318.42 119.98,316.63 119.50,315.50 C119.02,314.37 117.77,313.37 117.10,312.20 C116.43,311.03 115.72,309.45 115.50,308.50 C115.28,307.55 115.47,307.13 115.80,306.50 Z" fill="#FFFF00"/>
<path d="M136.5,196.9 L145.5,196.9" fill="none"/>
</g>
<rect x="30.5" y="196.5" width="139.00" height="120.00" fill="none" stroke="#2a2a2a" stroke-opacity="0.85" stroke-width="0.95"/>
<path d="M28.30,196.50H30.5M25.50,209.83H30.5M28.30,223.17H30.5M25.50,236.50H30.5M28.30,249.83H30.5M25.50,263.17H30.5M28.30,276.50H30.5M25.50,289.83H30.5M28.30,303.17H30.5M25.50,316.50H30.5M44.20,316.5V320.70M57.50,316.5V318.70M70.80,316.5V320.70M84.10,316.5V318.70M97.40,316.5V320.70M110.70,316.5V318.70M124.00,316.5V320.70M137.30,316.5V318.70M150.60,316.5V320.70M163.90,316.5V318.70" stroke="#333" stroke-width="0.8" fill="none"/>
<text x="28.50" y="199.30" text-anchor="end" class="t">21.5</text>
<text x="25.50" y="213.33" text-anchor="end" class="t">21</text>
<text x="25.50" y="240.00" text-anchor="end" class="t">20</text>
<text x="25.50" y="266.67" text-anchor="end" class="t">19</text>
<text x="25.50" y="293.33" text-anchor="end" class="t">18</text>
<text x="25.50" y="320.00" text-anchor="end" class="t">17</text>
<text x="43.30" y="328.30" text-anchor="middle" class="t">123</text>
<text x="69.90" y="328.30" text-anchor="middle" class="t">124</text>
<text x="96.50" y="328.30" text-anchor="middle" class="t">125</text>
<text x="123.10" y="328.30" text-anchor="middle" class="t">126</text>
<text x="149.70" y="328.30" text-anchor="middle" class="t">127</text>
<text x="99.50" y="335.50" text-anchor="middle" class="a">Longitude(°)</text>
<text transform="translate(14.80,255.90) rotate(-90)" text-anchor="middle" class="a">Latitude(°)</text>
<clipPath id="cQ2"><rect x="197.5" y="196.5" width="139.00" height="120.00"/></clipPath>
<g clip-path="url(#cQ2)" stroke="#333" stroke-width="0.9" stroke-linejoin="round">
<rect x="197.5" y="196.5" width="139.00" height="120.00" fill="#00FF00" stroke="none"/>
<path d="M223.50,192.00 C204.08,192.70 223.50,194.85 223.50,196.20 C223.50,197.55 223.80,198.55 223.50,200.10 C223.20,201.65 222.58,204.02 221.70,205.50 C220.82,206.98 219.38,207.52 218.20,209.00 C217.02,210.48 215.35,213.05 214.60,214.40 C213.85,215.75 213.10,216.22 213.70,217.10 C214.30,217.98 216.57,219.42 218.20,219.70 C219.83,219.98 221.72,219.38 223.50,218.80 C225.28,218.22 227.27,216.93 228.90,216.20 C230.53,215.47 231.82,214.47 233.30,214.40 C234.78,214.33 236.17,215.45 237.80,215.80 C239.43,216.15 241.32,216.58 243.10,216.50 C244.88,216.42 246.72,216.10 248.50,215.30 C250.28,214.50 251.87,212.90 253.80,211.70 C255.73,210.50 258.23,209.20 260.10,208.10 C261.97,207.00 263.00,205.83 265.00,205.10 C267.00,204.37 269.73,204.08 272.10,203.70 C274.47,203.32 276.82,202.95 279.20,202.80 C281.58,202.65 284.02,202.20 286.40,202.80 C288.78,203.40 291.28,205.22 293.50,206.40 C295.72,207.58 297.92,208.28 299.70,209.90 C301.48,211.52 303.02,214.02 304.20,216.10 C305.38,218.18 306.22,220.02 306.80,222.40 C307.38,224.78 307.40,227.88 307.70,230.40 C308.00,232.92 308.00,235.57 308.60,237.50 C309.20,239.43 309.67,240.97 311.30,242.00 C312.93,243.03 316.03,242.97 318.40,243.70 C320.77,244.43 323.27,245.42 325.50,246.40 C327.73,247.38 330.02,248.70 331.80,249.60 C333.58,250.50 334.83,251.23 336.20,251.80 C337.57,252.37 339.37,262.97 340.00,253.00 C340.63,243.03 359.42,202.17 340.00,192.00 C320.58,181.83 242.92,191.30 223.50,192.00 Z" fill="#FFFF00"/>
<path d="M194.00,235.00 C194.52,227.35 195.60,235.02 197.10,234.90 C198.60,234.78 200.97,234.22 203.00,234.30 C205.03,234.38 207.07,234.85 209.30,235.40 C211.53,235.95 214.03,236.80 216.40,237.60 C218.77,238.40 221.42,239.17 223.50,240.20 C225.58,241.23 227.42,242.32 228.90,243.80 C230.38,245.28 231.57,247.07 232.40,249.10 C233.23,251.13 233.60,253.53 233.90,256.00 C234.20,258.47 233.55,261.40 234.20,263.90 C234.85,266.40 236.55,268.32 237.80,271.00 C239.05,273.68 240.67,277.02 241.70,280.00 C242.73,282.98 243.47,285.63 244.00,288.90 C244.53,292.17 244.15,296.63 244.90,299.60 C245.65,302.57 247.02,304.63 248.50,306.70 C249.98,308.77 252.32,310.37 253.80,312.00 C255.28,313.63 256.70,315.17 257.40,316.50 C258.10,317.83 263.07,319.42 258.00,320.00 C252.93,320.58 232.15,320.58 227.00,320.00 C221.85,319.42 226.78,317.83 227.10,316.50 C227.42,315.17 228.32,313.93 228.90,312.00 C229.48,310.07 230.02,307.12 230.60,304.90 C231.18,302.68 232.25,300.42 232.40,298.70 C232.55,296.98 232.38,295.58 231.50,294.60 C230.62,293.62 228.73,293.32 227.10,292.80 C225.47,292.28 223.48,292.15 221.70,291.50 C219.92,290.85 217.88,290.23 216.40,288.90 C214.92,287.57 214.13,284.70 212.80,283.50 C211.47,282.30 210.18,282.05 208.40,281.70 C206.62,281.35 203.98,281.55 202.10,281.40 C200.22,281.25 198.45,280.90 197.10,280.80 C195.75,280.70 194.52,288.43 194.00,280.80 C193.48,273.17 193.48,242.65 194.00,235.00 Z" fill="#00FFFF"/>
<path d="M201.80,320.00 C198.65,319.42 201.60,317.88 202.10,316.50 C202.60,315.12 203.60,312.88 204.80,311.70 C206.00,310.52 207.67,309.78 209.30,309.40 C210.93,309.02 213.12,308.97 214.60,309.40 C216.08,309.83 217.17,310.82 218.20,312.00 C219.23,313.18 220.33,315.17 220.80,316.50 C221.27,317.83 224.17,319.42 221.00,320.00 C217.83,320.58 204.95,320.58 201.80,320.00 Z" fill="#00FFFF"/>
<path d="M282.20,257.70 C282.58,257.28 282.60,256.38 284.20,256.70 C285.80,257.02 289.25,258.63 291.80,259.60 C294.35,260.57 296.93,261.38 299.50,262.50 C302.07,263.62 304.65,264.87 307.20,266.30 C309.75,267.73 312.25,269.82 314.80,271.10 C317.35,272.38 319.95,273.52 322.50,274.00 C325.05,274.48 327.80,274.17 330.10,274.00 C332.40,273.83 334.65,273.17 336.30,273.00 C337.95,272.83 339.38,271.57 340.00,273.00 C340.62,274.43 340.62,280.17 340.00,281.60 C339.38,283.03 338.27,281.37 336.30,281.60 C334.33,281.83 330.50,282.58 328.20,283.00 C325.90,283.42 324.42,283.70 322.50,284.10 C320.58,284.50 318.62,285.40 316.70,285.40 C314.78,285.40 313.23,284.73 311.00,284.10 C308.77,283.47 305.85,282.50 303.30,281.60 C300.75,280.70 297.93,279.97 295.70,278.70 C293.47,277.43 291.35,275.75 289.90,274.00 C288.45,272.25 287.95,270.12 287.00,268.20 C286.05,266.28 285.05,264.00 284.20,262.50 C283.35,261.00 282.23,260.00 281.90,259.20 C281.57,258.40 281.82,258.12 282.20,257.70 Z" fill="#FFFF00"/>
<path d="M288.00,307.50 C288.42,306.98 290.13,307.57 290.90,308.20 C291.67,308.83 292.60,310.40 292.60,311.30 C292.60,312.20 291.60,313.60 290.90,313.60 C290.20,313.60 288.88,312.32 288.40,311.30 C287.92,310.28 287.58,308.02 288.00,307.50 Z" fill="#FFFF00"/>
</g>
<rect x="197.5" y="196.5" width="139.00" height="120.00" fill="none" stroke="#2a2a2a" stroke-opacity="0.85" stroke-width="0.95"/>
<path d="M195.30,196.50H197.5M192.50,209.83H197.5M195.30,223.17H197.5M192.50,236.50H197.5M195.30,249.83H197.5M192.50,263.17H197.5M195.30,276.50H197.5M192.50,289.83H197.5M195.30,303.17H197.5M192.50,316.50H197.5M200.12,316.5V318.70M213.50,316.5V320.70M226.88,316.5V318.70M240.25,316.5V320.70M253.62,316.5V318.70M267.00,316.5V320.70M280.38,316.5V318.70M293.75,316.5V320.70M307.12,316.5V318.70M320.50,316.5V320.70M333.88,316.5V318.70" stroke="#333" stroke-width="0.8" fill="none"/>
<text x="195.50" y="199.30" text-anchor="end" class="t">21.5</text>
<text x="192.50" y="213.33" text-anchor="end" class="t">21</text>
<text x="192.50" y="240.00" text-anchor="end" class="t">20</text>
<text x="192.50" y="266.67" text-anchor="end" class="t">19</text>
<text x="192.50" y="293.33" text-anchor="end" class="t">18</text>
<text x="192.50" y="320.00" text-anchor="end" class="t">17</text>
<text x="212.60" y="328.30" text-anchor="middle" class="t">123</text>
<text x="239.35" y="328.30" text-anchor="middle" class="t">124</text>
<text x="266.10" y="328.30" text-anchor="middle" class="t">125</text>
<text x="292.85" y="328.30" text-anchor="middle" class="t">126</text>
<text x="319.60" y="328.30" text-anchor="middle" class="t">127</text>
<text x="269.00" y="335.50" text-anchor="middle" class="a">Longitude(°)</text>
<text transform="translate(181.80,255.90) rotate(-90)" text-anchor="middle" class="a">Latitude(°)</text>
<clipPath id="cQ3"><rect x="363.5" y="196.5" width="139.00" height="120.00"/></clipPath>
<g clip-path="url(#cQ3)" stroke="#333" stroke-width="0.9" stroke-linejoin="round">
<rect x="363.5" y="196.5" width="139.00" height="120.00" fill="#00FF00" stroke="none"/>
<path d="M385.80,192.00 C365.77,192.70 385.65,194.85 385.80,196.20 C385.95,197.55 386.70,198.70 386.70,200.10 C386.70,201.50 385.80,203.12 385.80,204.60 C385.80,206.08 387.15,207.52 386.70,209.00 C386.25,210.48 384.28,212.17 383.10,213.50 C381.92,214.83 380.78,215.82 379.60,217.00 C378.42,218.18 376.00,219.32 376.00,220.60 C376.00,221.88 377.82,224.02 379.60,224.70 C381.38,225.38 384.03,224.93 386.70,224.70 C389.37,224.47 392.63,223.83 395.60,223.30 C398.57,222.77 401.53,221.95 404.50,221.50 C407.47,221.05 411.02,221.20 413.40,220.60 C415.78,220.00 417.02,218.93 418.80,217.90 C420.58,216.87 422.33,215.58 424.10,214.40 C425.87,213.22 427.92,211.55 429.40,210.80 C430.88,210.05 431.72,210.35 433.00,209.90 C434.28,209.45 435.22,208.48 437.10,208.10 C438.98,207.72 441.62,207.60 444.30,207.60 C446.98,207.60 450.38,207.87 453.20,208.10 C456.02,208.33 458.83,208.10 461.20,209.00 C463.57,209.90 465.62,211.87 467.40,213.50 C469.18,215.13 470.87,216.87 471.90,218.80 C472.93,220.73 473.17,222.87 473.60,225.10 C474.03,227.33 474.40,229.83 474.50,232.20 C474.60,234.57 474.20,237.07 474.20,239.30 C474.20,241.53 473.55,244.12 474.50,245.60 C475.45,247.08 477.82,247.47 479.90,248.20 C481.98,248.93 484.77,249.32 487.00,250.00 C489.23,250.68 490.72,251.50 493.30,252.30 C495.88,253.10 500.38,254.18 502.50,254.80 C504.62,255.42 505.42,266.47 506.00,256.00 C506.58,245.53 526.03,202.67 506.00,192.00 C485.97,181.33 405.83,191.30 385.80,192.00 Z" fill="#FFFF00"/>
<path d="M465.00,192.00 C461.35,192.70 464.60,195.08 465.60,196.20 C466.60,197.32 469.22,198.05 471.00,198.70 C472.78,199.35 474.52,200.10 476.30,200.10 C478.08,200.10 479.92,199.35 481.70,198.70 C483.48,198.05 486.03,197.32 487.00,196.20 C487.97,195.08 491.17,192.70 487.50,192.00 C483.83,191.30 468.65,191.30 465.00,192.00 Z" fill="#FF8000"/>
<path d="M436.80,225.10 L440.70,221.50 L445.10,225.60 L442.50,230.40 L439.80,230.40 Z" fill="#00FFFF"/>
<path d="M360.00,239.80 C360.60,232.17 362.12,239.85 363.60,239.70 C365.08,239.55 366.53,238.97 368.90,238.90 C371.27,238.83 375.13,238.78 377.80,239.30 C380.47,239.82 382.82,240.82 384.90,242.00 C386.98,243.18 388.82,244.77 390.30,246.40 C391.78,248.03 392.97,250.20 393.80,251.80 C394.63,253.40 394.85,254.28 395.30,256.00 C395.75,257.72 395.70,260.18 396.50,262.10 C397.30,264.02 398.92,265.72 400.10,267.50 C401.28,269.28 403.02,270.43 403.60,272.80 C404.18,275.17 403.75,278.73 403.60,281.70 C403.45,284.67 402.55,287.93 402.70,290.60 C402.85,293.27 403.60,295.32 404.50,297.70 C405.40,300.08 406.92,302.67 408.10,304.90 C409.28,307.13 410.57,309.27 411.60,311.10 C412.63,312.93 413.73,314.42 414.30,315.90 C414.87,317.38 418.30,319.32 415.00,320.00 C411.70,320.68 397.88,320.68 394.50,320.00 C391.12,319.32 394.57,317.83 394.70,315.90 C394.83,313.97 395.30,310.68 395.30,308.40 C395.30,306.12 395.23,303.98 394.70,302.20 C394.17,300.42 393.43,299.03 392.10,297.70 C390.77,296.37 388.48,295.38 386.70,294.20 C384.92,293.02 383.18,291.93 381.40,290.60 C379.62,289.27 378.08,287.23 376.00,286.20 C373.92,285.17 370.97,284.55 368.90,284.40 C366.83,284.25 365.08,285.12 363.60,285.30 C362.12,285.48 360.60,293.08 360.00,285.50 C359.40,277.92 359.40,247.43 360.00,239.80 Z" fill="#00FFFF"/>
<path d="M370.50,320.00 C368.98,319.32 370.52,317.38 370.70,315.90 C370.88,314.42 370.87,312.35 371.60,311.10 C372.33,309.85 373.92,308.40 375.10,308.40 C376.28,308.40 377.95,309.85 378.70,311.10 C379.45,312.35 379.42,314.42 379.60,315.90 C379.78,317.38 381.32,319.32 379.80,320.00 C378.28,320.68 372.02,320.68 370.50,320.00 Z" fill="#00FFFF"/>
<path d="M414.30,266.60 C414.67,265.87 416.10,265.27 417.00,265.70 C417.90,266.13 419.70,268.17 419.70,269.20 C419.70,270.23 417.82,271.75 417.00,271.90 C416.18,272.05 415.25,270.98 414.80,270.10 C414.35,269.22 413.93,267.33 414.30,266.60 Z" fill="#00FFFF"/>
<path d="M451.60,265.00 C451.85,264.12 452.17,263.15 452.90,262.70 C453.63,262.25 454.52,261.95 456.00,262.30 C457.48,262.65 459.73,263.92 461.80,264.80 C463.87,265.68 466.12,266.62 468.40,267.60 C470.68,268.58 473.23,269.72 475.50,270.70 C477.77,271.68 479.75,272.55 482.00,273.50 C484.25,274.45 486.80,275.65 489.00,276.40 C491.20,277.15 492.92,277.67 495.20,278.00 C497.48,278.33 500.90,278.33 502.70,278.40 C504.50,278.47 505.45,277.38 506.00,278.40 C506.55,279.42 506.55,283.48 506.00,284.50 C505.45,285.52 504.10,284.42 502.70,284.50 C501.30,284.58 499.12,284.82 497.60,285.00 C496.08,285.18 494.95,285.30 493.60,285.60 C492.25,285.90 490.63,286.25 489.50,286.80 C488.37,287.35 487.45,288.03 486.80,288.90 C486.15,289.77 485.93,290.90 485.60,292.00 C485.27,293.10 485.35,294.67 484.80,295.50 C484.25,296.33 483.10,296.78 482.30,297.00 C481.50,297.22 480.73,297.22 480.00,296.80 C479.27,296.38 478.48,295.55 477.90,294.50 C477.32,293.45 477.32,291.58 476.50,290.50 C475.68,289.42 474.68,288.83 473.00,288.00 C471.32,287.17 468.23,286.37 466.40,285.50 C464.57,284.63 463.33,283.75 462.00,282.80 C460.67,281.85 459.57,280.93 458.40,279.80 C457.23,278.67 455.95,277.33 455.00,276.00 C454.05,274.67 453.30,273.13 452.70,271.80 C452.10,270.47 451.58,269.13 451.40,268.00 C451.22,266.87 451.35,265.88 451.60,265.00 Z" fill="#FFFF00"/>
<path d="M451.50,312.50 C451.80,311.92 452.33,311.22 453.00,311.00 C453.67,310.78 454.75,310.90 455.50,311.20 C456.25,311.50 457.08,312.17 457.50,312.80 C457.92,313.43 458.00,314.22 458.00,315.00 C458.00,315.78 458.50,317.08 457.50,317.50 C456.50,317.92 453.05,318.00 452.00,317.50 C450.95,317.00 451.28,315.33 451.20,314.50 C451.12,313.67 451.20,313.08 451.50,312.50 Z" fill="#FFFF00"/>
</g>
<rect x="363.5" y="196.5" width="139.00" height="120.00" fill="none" stroke="#2a2a2a" stroke-opacity="0.85" stroke-width="0.95"/>
<path d="M361.30,196.50H363.5M358.50,209.83H363.5M361.30,223.17H363.5M358.50,236.50H363.5M361.30,249.83H363.5M358.50,263.17H363.5M361.30,276.50H363.5M358.50,289.83H363.5M361.30,303.17H363.5M358.50,316.50H363.5M366.20,316.5V318.70M379.50,316.5V320.70M392.80,316.5V318.70M406.10,316.5V320.70M419.40,316.5V318.70M432.70,316.5V320.70M446.00,316.5V318.70M459.30,316.5V320.70M472.60,316.5V318.70M485.90,316.5V320.70M499.20,316.5V318.70" stroke="#333" stroke-width="0.8" fill="none"/>
<text x="361.50" y="199.30" text-anchor="end" class="t">21.5</text>
<text x="358.50" y="213.33" text-anchor="end" class="t">21</text>
<text x="358.50" y="240.00" text-anchor="end" class="t">20</text>
<text x="358.50" y="266.67" text-anchor="end" class="t">19</text>
<text x="358.50" y="293.33" text-anchor="end" class="t">18</text>
<text x="358.50" y="320.00" text-anchor="end" class="t">17</text>
<text x="378.60" y="328.30" text-anchor="middle" class="t">123</text>
<text x="405.20" y="328.30" text-anchor="middle" class="t">124</text>
<text x="431.80" y="328.30" text-anchor="middle" class="t">125</text>
<text x="458.40" y="328.30" text-anchor="middle" class="t">126</text>
<text x="485.00" y="328.30" text-anchor="middle" class="t">127</text>
<text x="435.00" y="335.50" text-anchor="middle" class="a">Longitude(°)</text>
<text transform="translate(347.80,255.90) rotate(-90)" text-anchor="middle" class="a">Latitude(°)</text>
<rect x="509.2" y="30.20" width="11.9" height="9.53" fill="#808080"/>
<rect x="509.2" y="39.68" width="11.9" height="9.53" fill="#FF0000"/>
<rect x="509.2" y="49.16" width="11.9" height="9.53" fill="#FF8000"/>
<rect x="509.2" y="58.64" width="11.9" height="9.53" fill="#FFFF00"/>
<rect x="509.2" y="68.12" width="11.9" height="9.53" fill="#00FF00"/>
<rect x="509.2" y="77.60" width="11.9" height="9.53" fill="#00FFFF"/>
<rect x="509.2" y="87.08" width="11.9" height="9.53" fill="#0080FF"/>
<rect x="509.2" y="96.56" width="11.9" height="9.53" fill="#0000FF"/>
<rect x="509.2" y="106.04" width="11.9" height="9.53" fill="#C0C0C0"/>
<text x="524.3" y="42.28" class="c">25.72</text>
<text x="524.3" y="51.76" class="c">15.43</text>
<text x="524.3" y="61.24" class="c">12.86</text>
<text x="524.3" y="70.72" class="c">10.29</text>
<text x="524.3" y="80.20" class="c">7.710</text>
<text x="524.3" y="89.68" class="c">6.170</text>
<text x="524.3" y="99.16" class="c">3.080</text>
<text x="524.3" y="108.64" class="c">0.000</text>
<text transform="translate(509.7,24.30) scale(1.05,1)" class="ws">WS</text>
<text x="518.0" y="24.60" class="cjt">（</text>
<text x="527.6" y="24.30" class="ms">m/s</text>
<text x="539.1" y="24.60" class="cjt">）</text>
<rect x="509.2" y="215.10" width="11.9" height="9.53" fill="#808080"/>
<rect x="509.2" y="224.58" width="11.9" height="9.53" fill="#FF0000"/>
<rect x="509.2" y="234.06" width="11.9" height="9.53" fill="#FF8000"/>
<rect x="509.2" y="243.54" width="11.9" height="9.53" fill="#FFFF00"/>
<rect x="509.2" y="253.02" width="11.9" height="9.53" fill="#00FF00"/>
<rect x="509.2" y="262.50" width="11.9" height="9.53" fill="#00FFFF"/>
<rect x="509.2" y="271.98" width="11.9" height="9.53" fill="#0080FF"/>
<rect x="509.2" y="281.46" width="11.9" height="9.53" fill="#0000FF"/>
<rect x="509.2" y="290.94" width="11.9" height="9.53" fill="#C0C0C0"/>
<text x="524.3" y="227.18" class="c">25.72</text>
<text x="524.3" y="236.66" class="c">15.43</text>
<text x="524.3" y="246.14" class="c">12.86</text>
<text x="524.3" y="255.62" class="c">10.29</text>
<text x="524.3" y="265.10" class="c">7.710</text>
<text x="524.3" y="274.58" class="c">6.170</text>
<text x="524.3" y="284.06" class="c">3.080</text>
<text x="524.3" y="293.54" class="c">0.000</text>
<text transform="translate(509.7,209.20) scale(1.05,1)" class="ws">WS</text>
<text x="518.0" y="209.50" class="cjt">（</text>
<text x="527.6" y="209.20" class="ms">m/s</text>
<text x="539.1" y="209.50" class="cjt">）</text>
<text x="273.4" y="170.1" text-anchor="middle" class="lab">(a)</text>
<text x="273.4" y="357.0" text-anchor="middle" class="lab">(b)</text>
</svg>
</body></html>
